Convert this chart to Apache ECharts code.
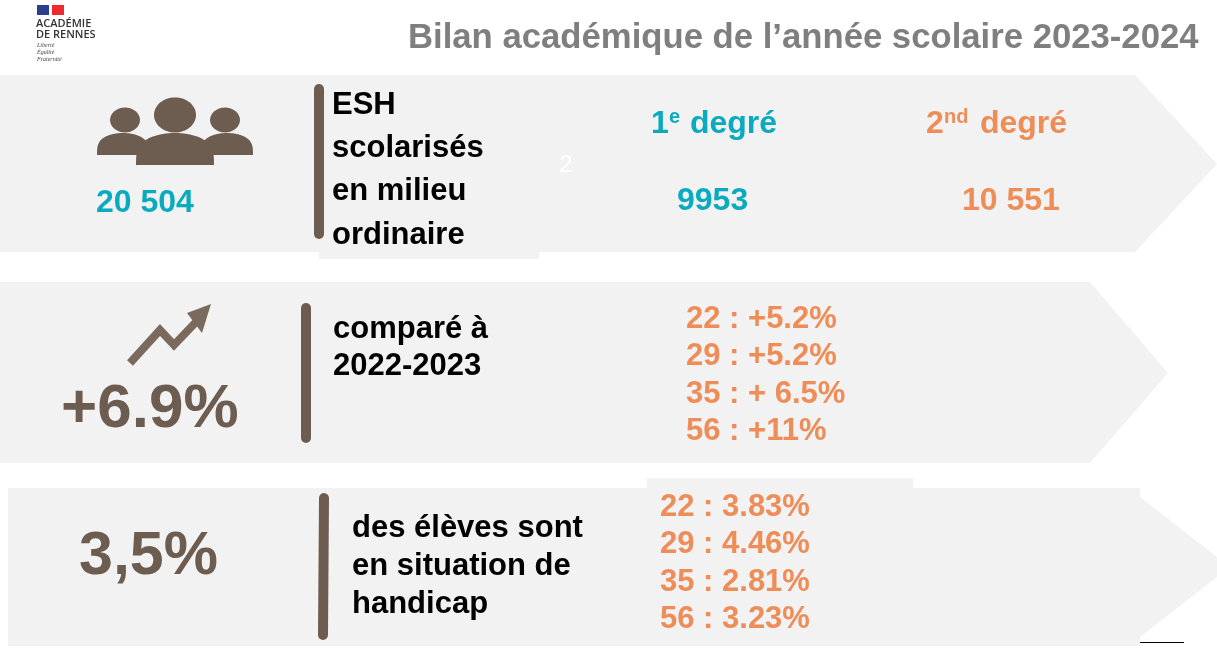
<!DOCTYPE html>
<html>
<head>
<meta charset="utf-8">
<title>Bilan académique</title>
<script src="https://cdn.jsdelivr.net/npm/echarts@6/dist/echarts.min.js"></script>
<style>
html, body { margin: 0; padding: 0; background: #fff; }
#main { width: 1217px; height: 655px; }
</style>
</head>
<body>
<div id="main"></div>
<script>
var titleText = 'Bilan académique de l’année scolaire 2023-2024';
var logoLines = ['ACADÉMIE', 'DE RENNES'];
var mottoLines = ['Liberté', 'Égalité', 'Fraternité'];
var totalLabel = '20 504';
var eshLines = ['ESH', 'scolarisés', 'en milieu', 'ordinaire'];
var degreeValues = ['9953', '10 551'];
var growthLabel = '+6.9%';
var compareLines = ['comparé à', '2022-2023'];
var growthByDept = ['22 : +5.2%', '29 : +5.2%', '35 : + 6.5%', '56 : +11%'];
var shareLabel = '3,5%';
var shareLines = ['des élèves sont', 'en situation de', 'handicap'];
var shareByDept = ['22 : 3.83%', '29 : 4.46%', '35 : 2.81%', '56 : 3.23%'];

var BROWN = '#6d5c50', TEAL = '#0aaabf', ORANGE = '#ee8d57', PANEL = '#f2f2f2';
var FONT = '"Liberation Sans", Arial, sans-serif';

function txt(str, x, y, size, color, weight, align, family, style) {
    return {
        type: 'text', x: x, y: y,
        style: {
            text: str, fill: color, align: align || 'left', verticalAlign: 'middle',
            font: (style || 'normal') + ' ' + (weight || 'bold') + ' ' + size + 'px ' + (family || FONT)
        }
    };
}

function poly(points, fill) {
    return { type: 'polygon', shape: { points: points }, style: { fill: fill } };
}

// half ellipse for the shoulders of the people icon
function dome(cx, bottom, rx, ry) {
    var pts = [];
    for (var a = 0; a <= 40; a++) {
        var t = Math.PI * a / 40;
        pts.push([cx - rx * Math.cos(t), bottom - ry * Math.pow(Math.sin(t), 0.6)]);
    }
    return poly(pts, BROWN);
}

function bar(x1, y1, x2, y2) {
    return {
        type: 'line', shape: { x1: x1, y1: y1, x2: x2, y2: y2 },
        style: { stroke: BROWN, lineWidth: 10, lineCap: 'round' }
    };
}

function head(cx, cy, rx, ry) {
    return { type: 'ellipse', shape: { cx: cx, cy: cy, rx: rx, ry: ry }, style: { fill: BROWN } };
}

function stacked(lines, x, y, step, size, color) {
    return lines.map(function (l, i) { return txt(l, x, y + i * step, size, color); });
}

var els = [];

// bandeaux
els.push(poly([[0, 75], [1135, 75], [1217, 164], [1135, 252], [539, 252], [539, 259], [319, 259], [319, 252], [0, 252]], PANEL));
els.push(poly([[0, 282], [1090, 282], [1168, 373], [1090, 463], [0, 463]], PANEL));
els.push(poly([[8, 488], [647, 488], [647, 478], [913, 478], [913, 488], [1140, 488], [1140, 497], [1230, 567], [1140, 637], [1140, 646], [8, 646]], PANEL));
els.push({ type: 'rect', shape: { x: 1140, y: 642, width: 44, height: 1 }, style: { fill: '#000' } });

// logo
els.push({ type: 'rect', shape: { x: 37, y: 5, width: 12, height: 10 }, style: { fill: '#2b3f8f' } });
els.push({ type: 'rect', shape: { x: 52, y: 5, width: 12, height: 10 }, style: { fill: '#ee2a2e' } });
els.push(txt(logoLines[0], 36, 24, 11, '#333', '600', 'left', '"Open Sans"'));
els.push(txt(logoLines[1], 36, 35, 11, '#333', '600', 'left', '"Open Sans"'));
mottoLines.forEach(function (l, i) {
    els.push(txt(l, 37, 45.5 + i * 6.8, 6, '#444', 'normal', 'left', '"Liberation Serif"', 'italic'));
});

els.push(txt(titleText, 408, 38, 34.7, '#7f7f7f'));

// icone personnes
els.push(dome(123, 155, 26, 22), dome(227, 155, 26, 22), dome(175, 165, 39, 32));
els.push(head(125, 120, 15, 12.5), head(225, 120, 15, 12.5), head(175, 115, 21, 17.5));
els.push(txt(totalLabel, 96, 203, 32, TEAL));

els.push(bar(319, 89, 319, 234));
els = els.concat(stacked(eshLines, 332, 105, 43.4, 31, '#000'));

els.push(txt('2', 566, 165, 24, '#fff', 'normal', 'center'));

els.push(txt('1', 651, 124, 32, TEAL));
els.push(txt('e', 669, 117, 20, TEAL));
els.push(txt(' degré', 681, 124, 32, TEAL));
els.push(txt('2', 926, 124, 32, ORANGE));
els.push(txt('nd', 944, 117, 20, ORANGE));
els.push(txt(' degré', 971, 124, 32, ORANGE));
els.push(txt(degreeValues[0], 677, 201, 32, TEAL));
els.push(txt(degreeValues[1], 962, 201, 32, ORANGE));

// evolution
els.push({
    type: 'polyline', shape: { points: [[130, 363], [160, 330], [174, 345], [196, 322]] },
    style: { stroke: '#7a6a5e', lineWidth: 8, fill: null, lineJoin: 'miter' }
});
els.push(poly([[187, 313], [211, 304], [202, 333]], '#7a6a5e'));
els.push(txt(growthLabel, 61, 410, 62, BROWN));
els.push(bar(306, 308, 306, 438));
els = els.concat(stacked(compareLines, 333, 329, 37, 31, '#000'));
els = els.concat(stacked(growthByDept, 686, 319, 37.5, 31, ORANGE));

// part des eleves
els.push(txt(shareLabel, 79, 557, 61, BROWN));
els.push(bar(324, 498, 323, 635));
els = els.concat(stacked(shareLines, 352, 528, 38, 31, '#000'));
els = els.concat(stacked(shareByDept, 660, 507, 37.5, 31, ORANGE));

var chart = echarts.init(document.getElementById('main'));
chart.setOption({
    animation: false,
    backgroundColor: '#fff',
    graphic: { elements: els }
});
</script>
</body>
</html>
